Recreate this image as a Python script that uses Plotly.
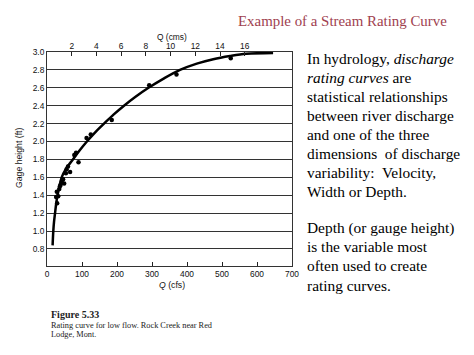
import plotly.graph_objects as go

# Rating curve (smooth fitted line), discharge in cfs vs gage height in ft
curve_q = [16, 18, 20, 23, 26, 30, 36, 42, 55, 74, 93, 114, 137, 163, 190, 220, 253, 290, 332, 380, 428, 475, 523, 570, 646]
curve_h = [0.84, 1.0, 1.1, 1.2, 1.3, 1.4, 1.5, 1.6, 1.7, 1.8, 1.9, 2.0, 2.1, 2.2, 2.3, 2.4, 2.5, 2.6, 2.7, 2.8, 2.87, 2.92, 2.955, 2.98, 2.99]

# Measured points
obs_q = [26, 28, 29, 32, 35, 37, 39, 42, 46, 49, 54, 56, 60, 66, 78, 83, 90, 113, 125, 185, 292, 370, 525]
obs_h = [1.38, 1.44, 1.31, 1.39, 1.47, 1.50, 1.52, 1.55, 1.58, 1.53, 1.645, 1.69, 1.72, 1.66, 1.85, 1.875, 1.77, 2.04, 2.08, 2.24, 2.63, 2.75, 2.93]

cfs_ticks = [0, 100, 200, 300, 400, 500, 600, 700]
cms_ticks = [2, 4, 6, 8, 10, 12, 14, 16]
h_ticks = [0.8, 1.0, 1.2, 1.4, 1.6, 1.8, 2.0, 2.2, 2.4, 2.6, 2.8, 3.0]
CFS_PER_CMS = 35.31

body_lines_1 = [
    "In hydrology, <i>discharge</i>",
    "<i>rating curves</i> are",
    "statistical relationships",
    "between river discharge",
    "and one of the three",
    "dimensions  of discharge",
    "variability:  Velocity,",
    "Width or Depth.",
]
body_lines_2 = [
    "Depth (or gauge height)",
    "is the variable most",
    "often used to create",
    "rating curves.",
]

SANS = "Liberation Sans, Arial, sans-serif"
SERIF = "Liberation Serif, Times New Roman, serif"

OFF = 8  # default page body margin
W, H = 474 - OFF, 355 - OFF
L, T = 47 - OFF, 52 - OFF
PW, PH = 245, 214
R, B = W - L - PW, H - T - PH

def px(x):
    return (x - OFF - L) / PW

def py(y):
    return (T + PH - (y - OFF)) / PH

fig = go.Figure()
fig.add_trace(go.Scatter(x=curve_q, y=curve_h, mode="lines", line=dict(color="black", width=2.5, shape="spline", smoothing=1),
                         showlegend=False, hoverinfo="skip"))
fig.add_trace(go.Scatter(x=obs_q, y=obs_h, mode="markers", marker=dict(color="black", size=4.5),
                         showlegend=False))
fig.add_trace(go.Scatter(x=[q / CFS_PER_CMS for q in curve_q], y=curve_h, xaxis="x2", mode="lines",
                         line=dict(width=0), opacity=0, showlegend=False, hoverinfo="skip"))

axis_font = dict(family=SANS, size=8.4, color="#111")
fig.update_layout(
    width=W, height=H,
    margin=dict(l=L, r=R, t=T, b=B, pad=0, autoexpand=False),
    paper_bgcolor="white", plot_bgcolor="white",
    xaxis=dict(range=[0, 700], tickvals=cfs_ticks, ticks="inside", ticklen=4, tickcolor="#222",
               tickfont=axis_font, showgrid=False, zeroline=False, showline=True, linecolor="#333",
               linewidth=1, mirror=True, automargin=False),
    xaxis2=dict(range=[0, 700 / CFS_PER_CMS], overlaying="x", side="top", tickvals=cms_ticks,
                ticks="inside", ticklen=4, tickcolor="#222", tickfont=axis_font, showgrid=False,
                zeroline=False, showline=False, automargin=False),
    yaxis=dict(range=[0.61, 3.0], tickvals=h_ticks, tickformat=".1f", ticks="", tickfont=axis_font,
               showgrid=True, gridcolor="#333", gridwidth=1.3, zeroline=False, showline=True,
               linecolor="#333", linewidth=1, mirror=True, automargin=False),
)

ann = []
ann.append(dict(text="Example of a Stream Rating Curve", x=px(236), y=py(21), xanchor="left", yanchor="middle",
                font=dict(family=SERIF, size=14.9, color="#a0414f")))
ann.append(dict(text="Q (cms)", x=px(172), y=py(37), xanchor="center", yanchor="middle", font=axis_font))
ann.append(dict(text="<i>Q</i> (cfs)", x=px(172), y=py(285), xanchor="center", yanchor="middle",
                font=dict(family=SANS, size=8.7, color="#111")))
ann.append(dict(text="Gage height (ft)", x=px(19), y=py(158), xanchor="center", yanchor="middle", textangle=-90,
                font=dict(family=SANS, size=8.7, color="#111")))
ann.append(dict(text="<b>Figure 5.33</b>", x=px(49), y=py(314), xanchor="left", yanchor="middle",
                font=dict(family=SERIF, size=10, color="#222")))
ann.append(dict(text="Rating curve for low flow. Rock Creek near Red", x=px(49), y=py(325), xanchor="left",
                yanchor="middle", font=dict(family=SERIF, size=8.3, color="#222")))
ann.append(dict(text="Lodge, Mont.", x=px(49), y=py(334), xanchor="left", yanchor="middle",
                font=dict(family=SERIF, size=8.3, color="#222")))
for i, line in enumerate(body_lines_1):
    ann.append(dict(text=line, x=px(305), y=py(58.3 + i * 19.05), xanchor="left", yanchor="middle",
                    font=dict(family=SERIF, size=15.4, color="black")))
for i, line in enumerate(body_lines_2):
    ann.append(dict(text=line, x=px(305), y=py(227.5 + i * 19.2), xanchor="left", yanchor="middle",
                    font=dict(family=SERIF, size=15.4, color="black")))
for a in ann:
    a.update(xref="paper", yref="paper", showarrow=False)
fig.update_layout(annotations=ann)

fig.write_html("out.html")
